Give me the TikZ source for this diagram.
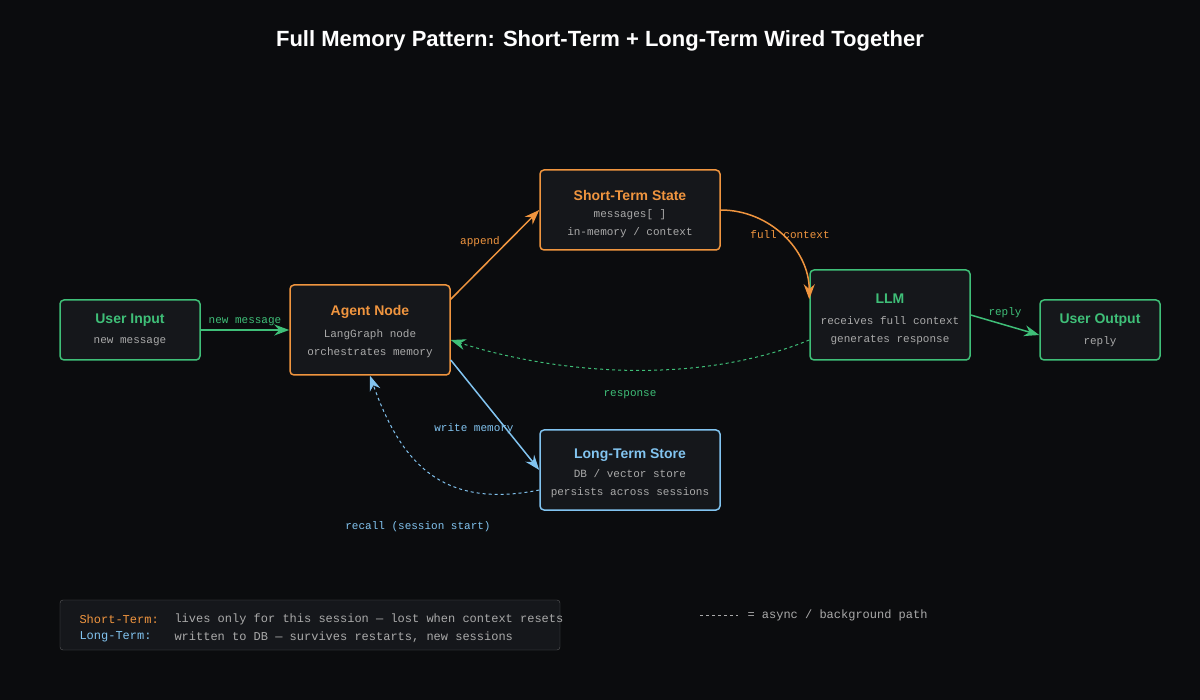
\documentclass[tikz,border=0pt]{standalone}
\usepackage{fontspec}
\setmainfont{Liberation Sans}
\newfontfamily\monof{Liberation Mono}
\usetikzlibrary{arrows.meta}
\definecolor{bgc}{HTML}{0B0C0E}
\definecolor{boxc}{HTML}{15171B}
\definecolor{grn}{HTML}{3FBF78}
\definecolor{org}{HTML}{F0953F}
\definecolor{blu}{HTML}{82C4F0}
\definecolor{gry}{HTML}{AAAAAA}
\tikzset{bx/.style={line width=1.5pt, rounded corners=4pt, fill=boxc}}
\tikzset{ttl/.style={font=\bfseries\fontsize{14}{16}\selectfont}}
\tikzset{sub/.style={text=gry, font=\monof\fontsize{11}{18}\selectfont, align=center}}
\tikzset{lbl/.style={font=\monof\fontsize{11}{13}\selectfont}}
\tikzset{arr/.style={line width=1.5pt, -{Stealth[length=15pt,width=11pt]}}}
\begin{document}
\begin{tikzpicture}[x=1pt,y=-1pt]
                \fill[bgc] (0,0) rectangle (1200,700);
                \useasboundingbox (0,0) rectangle (1200,700);
                \node[text=white, font=\bfseries\fontsize{22}{26}\selectfont] (title) at (600,41) {Full Memory Pattern: Short-Term + Long-Term Wired Together};
                % boxes
                \node[bx, draw=grn, minimum width=140pt, minimum height=60pt] (in) at (130,330) {};
                \node[bx, draw=org, minimum width=160pt, minimum height=90pt] (agent) at (370,330) {};
                \node[bx, draw=org, minimum width=180pt, minimum height=80pt] (sts) at (630,210) {};
                \node[bx, draw=grn, minimum width=160pt, minimum height=90pt] (llm) at (890,315) {};
                \node[bx, draw=grn, minimum width=120pt, minimum height=60pt] (out) at (1100,330) {};
                \node[bx, draw=blu, minimum width=180pt, minimum height=80pt] (lts) at (630,470) {};
                % texts
                \node[ttl, text=grn] (int) at (130,320) {User Input};
                \node[sub] (ins) at (130,342) {new message};
                \node[ttl, text=org] (agt) at (370,312) {Agent Node};
                \node[sub] (ags) at (370,344) {LangGraph node\\orchestrates memory};
                \node[ttl, text=org] (stt) at (630,195) {Short-Term State};
                \node[sub] (sts2) at (630,224) {messages[ ]\\in-memory / context};
                \node[ttl, text=grn] (llt) at (890,299) {LLM};
                \node[sub] (lls) at (890,331) {receives full context\\generates response};
                \node[ttl, text=grn] (outt) at (1100,320) {User Output};
                \node[sub] (outs) at (1100,342) {reply};
                \node[ttl, text=blu] (ltt) at (630,455) {Long-Term Store};
                \node[sub] (lts2) at (630,484) {DB / vector store\\persists across sessions};
                % connectors
                \draw[arr, grn] (in) -- (agent) node[lbl, midway, above] {new message};
                \draw[arr, org] ([yshift=-15pt]agent.north east) -- (sts.west);
                \node[lbl, text=org] (ap) at (480,242) {append};
                \draw[arr, org] (sts.east) to[out=0, in=90] ([yshift=-30pt]llm.north west);
                \node[lbl, text=org] (fc) at (790,235) {full context};
                \draw[arr, grn] (llm.east) -- ([yshift=-5pt]out.west) node[lbl, midway, above=3pt] {reply};
                \draw[arr, grn, dashed, line width=1pt] ([yshift=-25pt]llm.west) .. controls (700,385) and (560,375) .. ([yshift=-10pt]agent.east);
                \node[lbl, text=grn] (rsp) at (630,395) {response};
                \draw[arr, blu] ([yshift=-30pt]agent.east) -- ([yshift=0pt]lts.west);
                \node[lbl, text=blu] (wm) at (474,429) {write memory};
                \draw[arr, blu, dashed, line width=1pt] ([yshift=-20pt]lts.west) .. controls (440,510) and (400,460) .. (agent.south);
                \node[lbl, text=blu] (rcl) at (418,527) {recall (session start)};
                % legend
                \node[fill=boxc, draw=boxc!70!white, rounded corners=3pt, minimum width=500pt, minimum height=50pt] (leg) at (310,625) {};
                \node[font=\monof\fontsize{12}{14}\selectfont, text=org, anchor=west] (l1) at (76,619) {Short-Term:};
                \node[font=\monof\fontsize{12}{14}\selectfont, text=gry, anchor=west] (l1t) at (171,619) {lives only for this session — lost when context resets};
                \node[font=\monof\fontsize{12}{14}\selectfont, text=blu, anchor=west] (l2) at (76,637) {Long-Term:};
                \node[font=\monof\fontsize{12}{14}\selectfont, text=gry, anchor=west] (l2t) at (171,637) {written to DB — survives restarts, new sessions};
                \coordinate (da) at (700,615);
                \coordinate (db) at (738,615);
                \draw[gry, dashed, line width=1pt] (da) -- (db);
                \node[font=\monof\fontsize{12}{14}\selectfont, text=gry, anchor=west] (dl) at (744,615) {= async / background path};
            \end{tikzpicture}
\end{document}
